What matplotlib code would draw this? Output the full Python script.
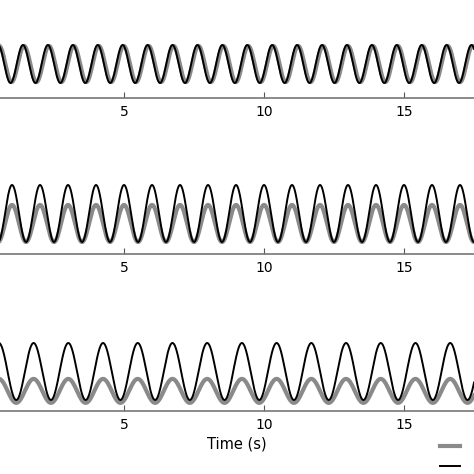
import numpy as np
import matplotlib.pyplot as plt

# per-panel oscillation parameters (black = 1)
periods = [0.89, 1.0, 1.24]          # s
peak_times = [4.95, 5.0, 6.73]       # s, time of one black peak
gray_amp = [0.95, 0.65, 0.42]
gray_offset = [0.0, -0.35, -0.68]
gray_lag = [0.04, 0.0, 0.0]
tick_values = [5, 10, 15]

# layout in pixels: (curve centre, curve amplitude, axis line)
layout = [(64, 19, 98), (213.5, 28.5, 254), (371.5, 28.5, 411)]

W = 474.0
fig = plt.figure(figsize=(4.74, 4.74), dpi=100)
t = np.linspace(0, 18, 3000)

for i, (mid, amp, axis_y) in enumerate(layout):
    top_px = mid - 1.4 * amp
    ax = fig.add_axes([0, 1 - axis_y / W, 1, (axis_y - top_px) / W])
    ax.set_xlim(0.57, 17.5)
    ax.set_ylim(-(axis_y - mid) / amp, 1.4)
    phase = 2 * np.pi * (t - peak_times[i]) / periods[i]
    gray = gray_offset[i] + gray_amp[i] * np.cos(phase - 2 * np.pi * gray_lag[i] / periods[i])
    ax.plot(t, gray, color='#8a8a8a', lw=3)
    ax.plot(t, np.cos(phase), color='black', lw=1.4)
    for s in ['top', 'right', 'left']:
        ax.spines[s].set_visible(False)
    ax.spines['bottom'].set_color('#777777')
    ax.spines['bottom'].set_linewidth(1.2)
    ax.set_yticks([])
    ax.set_xticks(tick_values)
    ax.tick_params(axis='x', direction='in', length=4, color='#555555', labelsize=10, pad=5)
    if i == 2:
        ax.set_xlabel('Time (s)', fontsize=10.5, labelpad=3)

fig.lines.append(plt.Line2D([440 / W, 460 / W], [1 - 446 / W] * 2, color='#8a8a8a', lw=3,
                            transform=fig.transFigure))
fig.lines.append(plt.Line2D([440 / W, 460 / W], [1 - 466 / W] * 2, color='black', lw=1.4,
                            transform=fig.transFigure))
fig.savefig('out.png', dpi=100)
